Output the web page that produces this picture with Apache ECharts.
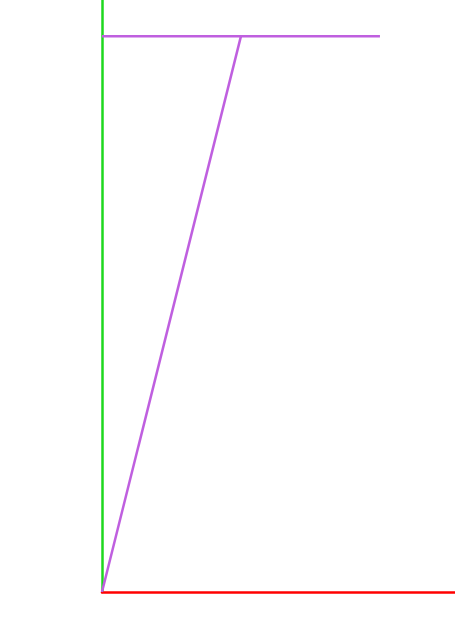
<!DOCTYPE html>
<html>
<head>
<meta charset="utf-8">
<script src="https://cdn.jsdelivr.net/npm/echarts@6/dist/echarts.min.js"></script>
<style>html,body{margin:0;padding:0;background:#fff;}#c{width:455px;height:619px;}</style>
</head>
<body>
<div id="c"></div>
<script>
// Rising segment
const riseX = [0, 1];
const riseY = [0, 1];
// Flat segment
const flatX = [0, 2];
const flatY = [1, 1];

const chart = echarts.init(document.getElementById('c'), null, {renderer: 'canvas'});
const zip = (xs, ys) => xs.map((x, i) => [x, ys[i]]);
const purple = '#bf5fdf';
chart.setOption({
  animation: false,
  grid: {left: 102, right: 0, top: 0, bottom: 27},
  xAxis: {
    type: 'value', min: 0, max: 2.54,
    axisLine: {show: true, onZero: false, lineStyle: {color: '#ff0000', width: 2.5}},
    axisTick: {show: false}, axisLabel: {show: false}, splitLine: {show: false}
  },
  yAxis: {
    type: 'value', min: 0, max: 1.065,
    axisLine: {show: true, onZero: false, lineStyle: {color: '#1ed81e', width: 2.5}},
    axisTick: {show: false}, axisLabel: {show: false}, splitLine: {show: false}
  },
  series: [
    {type: 'line', data: zip(flatX, flatY), symbol: 'none', lineStyle: {color: purple, width: 2.5}},
    {type: 'line', data: zip(riseX, riseY), symbol: 'none', lineStyle: {color: purple, width: 2.5}}
  ]
});
</script>
</body>
</html>
